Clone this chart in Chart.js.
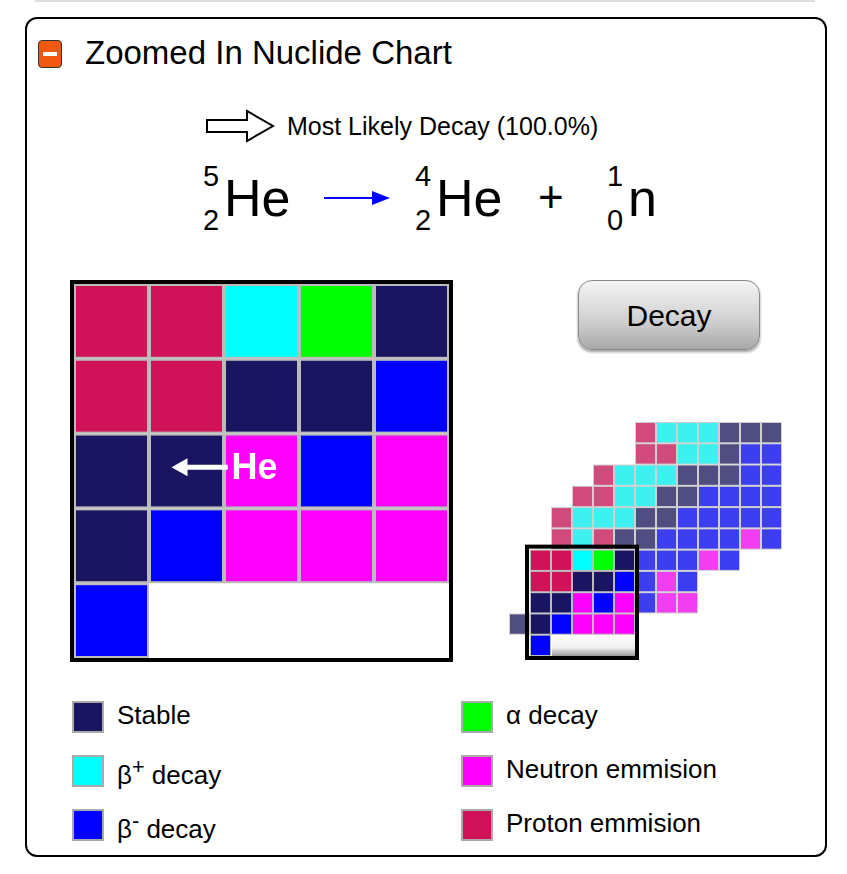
<!DOCTYPE html>
<html><head><meta charset="utf-8">
<script src="https://cdn.jsdelivr.net/npm/chart.js@4"></script>
<style>
body{margin:0;width:847px;height:874px;background:#fff;font-family:"Liberation Sans",Arial,sans-serif;position:relative;overflow:hidden}
.abs{position:absolute;white-space:nowrap}
#panel{left:25px;top:17px;width:798px;height:836px;border:2px solid #000;border-radius:12px}
#topline{left:35px;top:0;width:780px;height:2px;background:#ddd}
#icon{left:38px;top:40px;width:22px;height:26px;background:#f05a10;border:1px solid #333;border-radius:4px}
#icon div{position:absolute;left:4px;top:11px;width:14px;height:4px;background:#fff}
.sw{position:absolute;width:28px;height:28px;border:2px solid #aaa}
.lt{position:absolute;font-size:26px;color:#000;white-space:nowrap}
#btn{left:578px;top:280px;width:180px;height:68px;border:1px solid #888;border-radius:14px;background:linear-gradient(#f4f4f4,#cfcfcf 60%,#a8a8a8);box-shadow:0 2px 3px rgba(0,0,0,.4);font-size:30px;text-align:center;line-height:70px}
#mainbox{left:70px;top:280px;width:375px;height:374px;border:4px solid #000}
</style></head><body>
<div id="topline" class="abs"></div>
<div id="panel" class="abs"></div>
<div id="icon" class="abs"><div></div></div>
<div class="abs" style="left:85px;top:34px;font-size:33px">Zoomed In Nuclide Chart</div>
<svg class="abs" style="left:205px;top:108px" width="72" height="36"><polygon points="2,12 42,12 42,3 68,18 42,33 42,24 2,24" fill="#fff" stroke="#000" stroke-width="2"/></svg>
<div class="abs" style="left:287px;top:112px;font-size:25px">Most Likely Decay (100.0%)</div>
<div class="abs" style="left:203px;top:160px;font-size:29px">5</div>
<div class="abs" style="left:203px;top:204px;font-size:29px">2</div>
<div class="abs" style="left:224px;top:168px;font-size:52px">He</div>
<svg class="abs" style="left:322px;top:188px" width="72" height="20"><line x1="2" y1="10" x2="55" y2="10" stroke="#0000ff" stroke-width="2"/><polygon points="50,3 68,10 50,17" fill="#0000ff"/></svg>
<div class="abs" style="left:415px;top:160px;font-size:29px">4</div>
<div class="abs" style="left:415px;top:204px;font-size:29px">2</div>
<div class="abs" style="left:436px;top:168px;font-size:52px">He</div>
<div class="abs" style="left:538px;top:172px;font-size:44px">+</div>
<div class="abs" style="left:607px;top:160px;font-size:29px">1</div>
<div class="abs" style="left:607px;top:204px;font-size:29px">0</div>
<div class="abs" style="left:628px;top:168px;font-size:52px">n</div>
<div id="btn" class="abs">Decay</div>
<div id="mainbox" class="abs"><canvas id="c1" width="375" height="374"></canvas></div>
<div class="abs" style="left:499px;top:412px;width:294px;height:254px"><canvas id="c2" width="294" height="254"></canvas></div>
<div id="legend"></div>
<script>
// decay codes: S stable, P beta+, M beta-, A alpha, N neutron emission, R proton emission
const mainRows = [
  ['R','R','P','A','S'],
  ['R','R','S','S','M'],
  ['S','S','N','M','N'],
  ['S','M','N','N','N'],
  ['M']
];
const miniRows = [ // [startColumn, codes...]
  [5,'R','P','P','P','S','S','S'],
  [5,'R','R','P','P','S','M','M'],
  [3,'R','P','P','P','S','S','S','M','M'],
  [2,'R','R','P','P','S','S','M','M','M','M'],
  [1,'R','P','P','P','S','S','M','M','M','M','M'],
  [1,'R','P','R','S','S','M','M','M','M','N','M'],
  [0,'R','R','P','A','S','M','M','M','N','M'],
  [0,'R','R','S','S','M','M','N','M'],
  [0,'S','S','N','M','N','M','N','N'],
  [-1,'S','S','M','N','N','N'],
  [0,'M']
];
const legendItems = [['S','Stable'],['P','β<sup>+</sup> decay'],['M','β<sup>-</sup> decay'],['A','α decay'],['N','Neutron emmision'],['R','Proton emmision']];
const colors = {S:'#1a1560',P:'#00ffff',M:'#0000ff',A:'#00ff00',N:'#ff00ff',R:'#d01358'};

// legend
(function(){
  const L=document.getElementById('legend');
  legendItems.forEach((it,i)=>{
    const col=Math.floor(i/3), row=i%3;
    const x=col? 461:72, y=[701,755,809][row];
    L.insertAdjacentHTML('beforeend',`<div class="sw" style="left:${x}px;top:${y}px;background:${colors[it[0]]}"></div><div class="lt" style="left:${x+45}px;top:${y-1}px">${it[1]}</div>`);
  });
})();

function cellsPlugin(getCells, extra){
  return {id:'cells',afterDraw(ch){
    const ctx=ch.ctx, xs=ch.scales.x, ys=ch.scales.y;
    getCells().forEach(c=>{
      const x0=xs.getPixelForValue(c.x), x1=xs.getPixelForValue(c.x+1);
      const y0=ys.getPixelForValue(c.y), y1=ys.getPixelForValue(c.y+1);
      ctx.save();ctx.globalAlpha=c.alpha;
      ctx.fillStyle='#bbb';ctx.fillRect(x0,y0,x1-x0,y1-y0);
      const b=c.bw;
      ctx.fillStyle=colors[c.code];ctx.fillRect(x0+b,y0+b,x1-x0-2*b,y1-y0-2*b);
      ctx.restore();
    });
    if(extra) extra(ch);
  }};
}
function baseOpts(xmin,xmax,ymin,ymax,pad){
  return {responsive:false,animation:false,events:[],layout:{padding:pad||0},
    plugins:{legend:{display:false},tooltip:{enabled:false}},
    scales:{x:{type:'linear',min:xmin,max:xmax,display:false},y:{type:'linear',min:ymin,max:ymax,reverse:true,display:false}}};
}
// main chart
new Chart(document.getElementById('c1'),{type:'scatter',data:{datasets:[{data:[]}]},
  options:baseOpts(0,5,0,5),
  plugins:[cellsPlugin(()=>{const a=[];mainRows.forEach((r,y)=>r.forEach((c,x)=>a.push({x,y,code:c,alpha:1,bw:2})));return a;},
    ch=>{const ctx=ch.ctx,xs=ch.scales.x,ys=ch.scales.y;
      const yc=ys.getPixelForValue(2.45);
      ctx.save();ctx.fillStyle='#fff';ctx.strokeStyle='#fff';ctx.lineWidth=5;
      const xa=xs.getPixelForValue(1.3), xb=xs.getPixelForValue(2.05);
      ctx.beginPath();ctx.moveTo(xb,yc);ctx.lineTo(xa+12,yc);ctx.stroke();
      ctx.beginPath();ctx.moveTo(xa,yc);ctx.lineTo(xa+16,yc-9);ctx.lineTo(xa+16,yc+9);ctx.closePath();ctx.fill();
      ctx.font='bold 36px "Liberation Sans",Arial';ctx.textBaseline='middle';
      ctx.fillText('He',xs.getPixelForValue(2.1),yc+2);ctx.restore();})]
});
// mini chart
new Chart(document.getElementById('c2'),{type:'scatter',data:{datasets:[{data:[]}]},
  options:baseOpts(-1,12,0,11,{left:10,right:11,top:10,bottom:10}),
  plugins:[cellsPlugin(()=>{const a=[];miniRows.forEach((r,y)=>{const s=r[0];r.slice(1).forEach((c,i)=>{const x=s+i;const inside=x>=0&&x<=4&&y>=6;a.push({x,y,code:c,alpha:inside?1:0.7,bw:1});});});return a;},
    ch=>{const ctx=ch.ctx,xs=ch.scales.x,ys=ch.scales.y;
      const x0=xs.getPixelForValue(0),x1=xs.getPixelForValue(5),y0=ys.getPixelForValue(6),y1=ys.getPixelForValue(11);
      const gx0=xs.getPixelForValue(1)+1, gy0=ys.getPixelForValue(10)+1;
      const g=ctx.createLinearGradient(0,gy0,0,y1);g.addColorStop(0,'#fff');g.addColorStop(0.6,'#eee');g.addColorStop(1,'#999');
      ctx.save();ctx.fillStyle=g;ctx.fillRect(gx0,gy0,x1-gx0,y1-gy0);
      ctx.strokeStyle='#000';ctx.lineWidth=4;ctx.strokeRect(x0-3,y0-3,x1-x0+5,y1-y0+5);ctx.restore();})]
});
</script>
</body></html>
